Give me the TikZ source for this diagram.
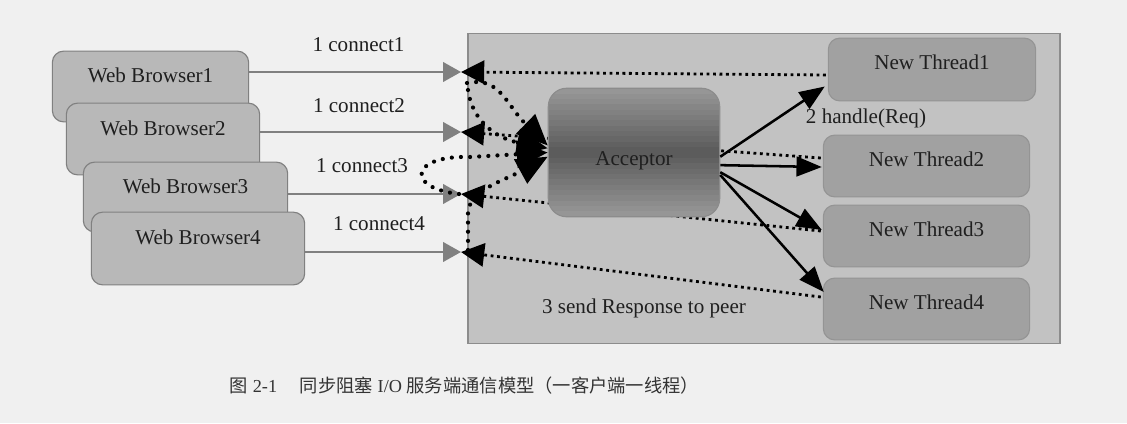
\documentclass[tikz,border=0pt]{standalone}
\usepackage{fontspec}
\setmainfont{Liberation Serif}
\newfontfamily\cjkfont{Noto Sans CJK SC}
\usepackage{tikz}
\usetikzlibrary{positioning, arrows.meta, shapes.geometric, calc}

\begin{document}
\begin{tikzpicture}[x=0.025cm, y=-0.025cm,
  every node/.style={font=\fontsize{15}{18}\selectfont, text=black!88},
  browser/.style={draw=black!50, fill=black!28, rounded corners=8pt, line width=0.8pt, text height=11pt, text depth=16.6pt},
  thread/.style={draw=black!42, fill=black!37, rounded corners=8pt, line width=0.8pt, minimum width=146.7pt, minimum height=43.9pt, text height=11pt, text depth=11pt},
  server/.style={draw=black!45, fill=black!24, line width=1pt, minimum width=421pt, minimum height=220.4pt},
  acceptor/.style={draw=black!45, fill=black!45, rounded corners=13pt, line width=0.8pt, minimum width=121.9pt, minimum height=91.4pt, text height=28pt, text depth=10pt,
    path picture={\foreach \i in {0,...,23} {
      \pgfmathsetmacro\gr{40+25*(1-abs(2*(\i+0.5)/24-1))}
      \pgfmathsetmacro\tb{\i/24}
      \pgfmathsetmacro\te{(\i+1.1)/24}
      \fill[black!\gr, sharp corners] ($(path picture bounding box.north west)!\tb!(path picture bounding box.south west)$)
        rectangle ($(path picture bounding box.north east)!\te!(path picture bounding box.south east)$);}}},
  conn/.style={draw=black!50, line width=1.4pt, -{Triangle[length=12.8pt,width=14pt]}},
  reply/.style={black, line width=2pt, dash pattern=on 2pt off 2.6pt, -{Triangle[length=16.5pt,width=16.5pt]}},
  request/.style={black, line width=3pt, line cap=round, dash pattern=on 0pt off 6.5pt, -{Triangle[length=22pt,width=19pt]}},
  handle/.style={black, line width=1.8pt, -{Triangle[length=18pt,width=14pt]}}]

  \fill[black!6] (0,0) rectangle (1127,423);
  \useasboundingbox (0,0) rectangle (1127,423);

  % server side
  \node[server] (srv) at (764,188.5) {};
  \node[thread, minimum width=147.4pt, minimum height=44.6pt] (nt1) at (932,69.5) {New Thread1};
  \node[thread] (nt2) at (926.5,166) {New Thread2};
  \node[thread] (nt3) at (926.5,236) {New Thread3};
  \node[thread] (nt4) at (926.5,309) {New Thread4};

  % clients
  \node[browser, minimum width=139.6pt, minimum height=50.3pt] (wb1) at (150.5,86.5) {Web Browser1};
  \node[browser, minimum width=137.5pt, minimum height=51pt] (wb2) at (163,139) {Web Browser2};
  \node[browser, minimum width=145.3pt, minimum height=49.6pt] (wb3) at (185.5,197) {Web Browser3};
  \node[browser, minimum width=151.7pt, minimum height=51.7pt] (wb4) at (198,248.5) {Web Browser4};

  \coordinate (c1) at (461,72);
  \coordinate (c2) at (461,132);
  \coordinate (c3) at (461,194);
  \coordinate (c4) at (461,252);

  \draw[conn] (wb1.east |- c1) -- (c1);
  \draw[conn] (wb2.east |- c2) -- (c2);
  \draw[conn] (wb3.east |- c3) -- (c3);
  \draw[conn] (wb4.east |- c4) -- (c4);

  % responses
  \draw[reply] ([shift={(-2,5.5)}]nt1.west) -- (c1);
  \draw[reply] ([shift={(-2,-8)}]nt2.west) -- (c2);
  \draw[reply] ([shift={(-2,-5)}]nt3.west) -- (c3);
  \draw[reply] ([shift={(-2,-12)}]nt4.west) -- (c4);

  \node[acceptor] (acc) at (634,152.5) {Acceptor};

  \draw[handle] ([yshift=-3pt]acc.east) -- ([shift={(-3,17)}]nt1.west);
  \draw[handle] ([yshift=-9pt]acc.east) -- ([shift={(-1,1)}]nt2.west);
  \draw[handle] ([yshift=-14pt]acc.east) -- ([shift={(-1,-6)}]nt3.west);
  \draw[handle] ([yshift=-16pt]acc.east) -- ([shift={(1,-17)}]nt4.west);

  % requests into the acceptor
  \draw[request] ([shift={(6,11)}]c1) .. controls (500,76) and (506,105) .. ([yshift=5pt]acc.west);
  \draw[request] ([shift={(7,18)}]c1) .. controls (472,120) and (495,138) .. ([yshift=3pt]acc.west);
  \draw[request] ([shift={(-2,0)}]c3) .. controls (405,188) and (410,155) .. (470,157) -- (acc.west);
  \draw[request] ([shift={(7,-2)}]c4) -- (468,212) .. controls (470,190) and (505,180) .. ([yshift=-3pt]acc.west);

  \node (lc1) at (358.5,45) {1 connect1};
  \node (lc2) at (359,106) {1 connect2};
  \node (lc3) at (362,166) {1 connect3};
  \node (lc4) at (379,224) {1 connect4};
  \node (lhandle) at (866,118) {2 handle(Req)};
  \node (lsend) at (644,308) {3 send Response to peer};

  % caption
  \node[anchor=west, font=\fontsize{13}{15}\selectfont, text=black!80] (fig) at (225,386) {{\cjkfont 图} 2-1};
  \node[anchor=west, font=\fontsize{13}{15}\selectfont, text=black!80] (title) at (295,386) {{\cjkfont 同步阻塞} I/O {\cjkfont 服务端通信模型（一客户端一线程）}};
\end{tikzpicture}
\end{document}
